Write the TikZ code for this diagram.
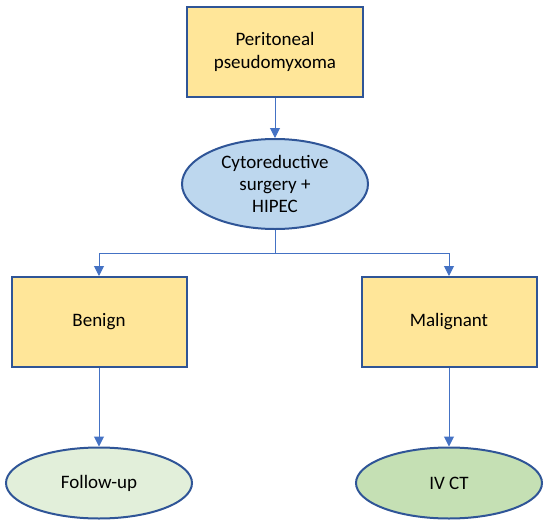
\documentclass[tikz,border=0pt]{standalone}
\usepackage{fontspec}
\setmainfont{Carlito}
\usetikzlibrary{arrows.meta,shapes.geometric}
\definecolor{boxfill}{HTML}{FFE699}
\definecolor{edgeblue}{HTML}{2F5597}
\definecolor{linkblue}{HTML}{4472C4}
\definecolor{ovalblue}{HTML}{BDD7EE}
\definecolor{palegreen}{HTML}{E2EFDA}
\definecolor{midgreen}{HTML}{C5E0B4}
\tikzset{
    stagebox/.style={draw=edgeblue, line width=2pt, fill=boxfill, minimum width=175pt, minimum height=90pt, inner sep=0pt, align=center, font=\fontsize{19}{23}\selectfont},
    oval/.style={ellipse, draw=edgeblue, line width=2pt, minimum width=186pt, inner sep=0pt, align=center, font=\fontsize{19}{22}\selectfont},
    link/.style={linkblue, line width=1pt, -{Triangle[length=10pt, width=10pt]}}
}
\begin{document}
\begin{tikzpicture}[x=1pt, y=-1pt]
    \useasboundingbox (0,0) rectangle (550,528);

    % Top of the chart
    \node[stagebox, minimum width=176pt] (ppm) at (275,52) {Peritoneal\\pseudomyxoma};
    \node[oval, fill=ovalblue, minimum height=90pt] (crs) at (275,184) {Cytoreductive\\surgery +\\HIPEC};

    % Two branches
    \node[stagebox] (benign) at (99,322) {Benign};
    \node[stagebox] (malig) at (449,322) {Malignant};
    \coordinate (split) at (275,253);

    % Outcomes
    \node[oval, fill=palegreen, minimum height=71pt] (follow) at (99,483) {Follow-up};
    \node[oval, fill=midgreen, minimum height=71pt] (ivct) at (449,483) {IV CT};

    % Connectors
    \draw[link] (ppm) -- (crs);
    \draw[linkblue, line width=1pt] (crs) -- (split);
    \draw[link] (split) -| (benign);
    \draw[link] (split) -| (malig);
    \draw[link] (benign) -- (follow);
    \draw[link] (malig) -- (ivct);
\end{tikzpicture}
\end{document}
